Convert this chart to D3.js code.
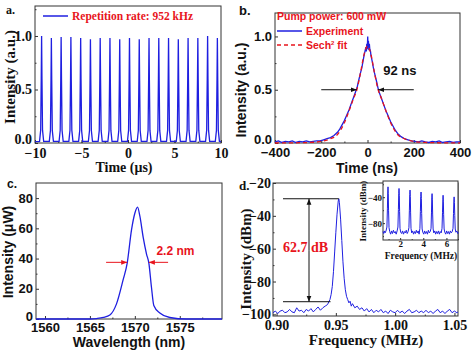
<!DOCTYPE html>
<html>
<head>
<meta charset="utf-8">
<script src="https://cdn.jsdelivr.net/npm/d3@7"></script>
<style>
  body { margin: 0; background: #fff; }
  svg { display: block; }
  .tick line { stroke: #333; }
</style>
</head>
<body>
<div id="chart"></div>
<script>
const width = 474;
const height = 351;

// ---- panel a: pulse train ----
const pulseCenters = [-9.29, -8.24, -7.19, -6.14, -5.09, -4.04, -2.99, -1.94, -0.89, 0.16,
  1.21, 2.26, 3.31, 4.36, 5.41, 6.46, 7.51, 8.56, 9.61];
const pulsePeaks = [1.0, 0.98, 0.99, 0.99, 0.98, 0.97, 0.98, 0.98, 0.97, 0.98,
  0.97, 0.98, 0.98, 0.98, 0.97, 0.98, 0.98, 1.0, 0.98];
// shape of one pulse (offset in us, fraction of peak)
const pulseShapeDt = [-0.22, -0.1, -0.04, 0, 0.04, 0.1, 0.22];
const pulseShapeRel = [0.015, 0.12, 0.6, 1, 0.6, 0.12, 0.015];

// ---- panel b: single pulse ----
const expTime = [-400, -385, -370, -355, -340, -325, -310, -295, -280, -265, -250, -235, -220, -205,
  -190, -175, -160, -145, -130, -120, -110, -100, -90, -80, -70, -60, -50, -45, -40, -30, -25,
  -20, -15, -10, -7, -5, -3, -1, 1, 2, 4, 6, 8, 10, 13, 15, 20, 25, 30, 40, 45, 50, 60, 70, 80,
  90, 100, 110, 120, 130, 145, 160, 175, 190, 205, 220, 235, 250, 265, 280, 295, 310, 325, 340,
  355, 370, 385, 400];
const expInt = [0.01, 0.02, 0.005, 0.015, 0.01, 0.02, 0.005, 0.015, 0.01, 0.02, 0.01, 0.015, 0.02, 0.02,
  0.03, 0.04, 0.05, 0.07, 0.1, 0.13, 0.17, 0.21, 0.26, 0.31, 0.37, 0.43, 0.49, 0.52, 0.57, 0.66, 0.7,
  0.76, 0.82, 0.87, 0.9, 0.86, 0.93, 0.88, 1.0, 0.9, 0.96, 0.87, 0.93, 0.88, 0.86, 0.82, 0.77, 0.71,
  0.66, 0.57, 0.52, 0.48, 0.42, 0.36, 0.3, 0.25, 0.2, 0.16, 0.12, 0.09, 0.06, 0.04, 0.03, 0.02,
  0.015, 0.01, 0.02, 0.01, 0.005, 0.015, 0.01, 0.02, 0.005, 0.01, 0.015, 0.005, 0.01, 0.01];
const fitTime = [-400, -250, -200, -160, -130, -100, -80, -60, -46, -30, -15, 0, 15, 30, 46, 60, 80,
  100, 130, 160, 200, 250, 400];
const fitInt = [0, 0.005, 0.015, 0.04, 0.08, 0.19, 0.3, 0.42, 0.5, 0.66, 0.83, 0.91, 0.83, 0.66, 0.5,
  0.42, 0.3, 0.19, 0.08, 0.04, 0.015, 0.005, 0];

// ---- panel c: optical spectrum ----
const wavelength = [1559, 1565, 1565.74, 1566.5, 1567.22, 1567.96, 1568.7, 1569.15, 1569.63, 1570.0,
  1570.3, 1570.56, 1570.93, 1571.3, 1571.56, 1571.85, 1572.11, 1572.78, 1573.89, 1575.74, 1579.7];
const spectrum = [0, 0, 0.3, 1, 2.6, 10, 26, 37, 59, 70, 74, 68, 54, 43, 37, 21, 9, 4, 1, 0, 0];

// ---- panel d: RF spectrum ----
const rfFreq = [0.897, 0.899, 0.901, 0.903, 0.905, 0.907, 0.909, 0.911, 0.913, 0.915, 0.917, 0.919,
  0.921, 0.923, 0.925, 0.927, 0.929, 0.931, 0.933, 0.935, 0.937, 0.939, 0.941, 0.943, 0.945, 0.946,
  0.947, 0.948, 0.949, 0.950, 0.951, 0.952, 0.9525, 0.953, 0.954, 0.955, 0.956, 0.957, 0.958, 0.959,
  0.960, 0.961, 0.962, 0.963, 0.964, 0.966, 0.968, 0.970, 0.972, 0.974, 0.976, 0.978, 0.980, 0.982,
  0.984, 0.986, 0.988, 0.990, 0.992, 0.994, 0.996, 0.998, 1.000, 1.002, 1.004, 1.006, 1.008, 1.010,
  1.012, 1.014, 1.016, 1.018, 1.020, 1.022, 1.024, 1.026, 1.028, 1.030, 1.032, 1.034, 1.036, 1.038,
  1.040, 1.042, 1.044, 1.046, 1.048, 1.050, 1.052, 1.053];
const rfPower = [-99, -98, -99.5, -98, -97.5, -99, -98.5, -97, -98.5, -99, -96, -98, -97.5, -99, -97,
  -98, -96.5, -98.5, -97, -95.5, -97.5, -96, -95, -94, -91, -88, -83, -74, -62, -50, -39, -31, -29.6,
  -32, -42, -55, -68, -78, -85, -89, -91, -93, -92, -95, -93.5, -96, -95, -97, -96, -98, -96.5, -98.5,
  -97, -99, -97.5, -98.5, -97, -99, -98, -99.5, -97.5, -98.5, -99, -97.5, -99, -98, -99.5, -98, -97,
  -99, -98.5, -97.5, -99, -98, -99, -97.5, -99, -98, -99.5, -98, -97, -99, -98, -99.5, -98, -97, -99,
  -98, -99, -98.5];

// inset: harmonics
const insetFreq = [0.52, 0.58, 0.64, 0.7, 0.78,
  0.86, 0.9, 0.93, 0.952, 0.975, 1.0, 1.04,
  1.1, 1.18, 1.26, 1.34, 1.42, 1.5, 1.58, 1.66, 1.74,
  1.81, 1.85, 1.88, 1.904, 1.93, 1.955, 1.99,
  2.05, 2.13, 2.21, 2.29, 2.37, 2.45, 2.53, 2.61, 2.69,
  2.76, 2.8, 2.83, 2.856, 2.88, 2.905, 2.94,
  3.0, 3.08, 3.16, 3.24, 3.32, 3.4, 3.48, 3.56, 3.64,
  3.71, 3.75, 3.78, 3.808, 3.835, 3.86, 3.9,
  3.96, 4.04, 4.12, 4.2, 4.28, 4.36, 4.44, 4.52, 4.6,
  4.67, 4.71, 4.735, 4.76, 4.785, 4.81, 4.85,
  4.91, 4.99, 5.07, 5.15, 5.23, 5.31, 5.39, 5.47, 5.55,
  5.62, 5.66, 5.69, 5.712, 5.735, 5.76, 5.8,
  5.86, 5.94, 6.02, 6.1, 6.18, 6.26, 6.34, 6.42, 6.5,
  6.57, 6.61, 6.64, 6.664, 6.69, 6.72, 6.76,
  6.82, 6.9, 6.98, 7.0];
const insetPower = [-93, -96, -92, -95, -92,
  -86, -58, -32, -24, -34, -60, -87,
  -93, -97, -92, -96, -91, -95, -93, -97, -92,
  -86, -59, -34, -26.5, -37, -62, -88,
  -94, -96, -92, -97, -93, -95, -91, -96, -93,
  -87, -60, -36, -29, -39, -63, -88,
  -95, -92, -97, -93, -96, -91, -95, -92, -97,
  -88, -62, -39, -32, -42, -65, -89,
  -94, -97, -92, -96, -93, -97, -91, -95, -93,
  -88, -63, -41, -34.5, -44, -66, -89,
  -95, -92, -97, -93, -96, -92, -97, -93, -95,
  -88, -64, -44, -37, -46, -67, -89,
  -94, -97, -92, -96, -93, -97, -92, -95, -93,
  -88, -65, -46, -39.5, -48, -68, -89,
  -94, -92, -96, -94];

const SERIF = "'Liberation Serif', 'Times New Roman', serif";
const SANS = "'Liberation Sans', Arial, sans-serif";
const BLUE = "#1f1fe0";
const RED = "#e8141c";

const svg = d3
  .select("#chart")
  .append("svg")
  .attr("width", width)
  .attr("height", height);

svg.append("rect").attr("width", width).attr("height", height).attr("fill", "#fff");

// draws frame + axes (ticks pointing in), returns scales
function panel(box, xDomain, yDomain, opt) {
  const x = d3.scaleLinear().domain(xDomain).range([box.l, box.r]);
  const y = d3.scaleLinear().domain(yDomain).range([box.b, box.t]);

  svg
    .append("rect")
    .attr("x", box.l)
    .attr("y", box.t)
    .attr("width", box.r - box.l)
    .attr("height", box.b - box.t)
    .attr("fill", opt.fill || "none")
    .attr("stroke", "#333")
    .attr("stroke-width", 1);

  const xAxis = svg
    .append("g")
    .attr("transform", `translate(0, ${box.b})`)
    .call(
      d3
        .axisBottom(x)
        .tickValues(opt.xTicks)
        .tickFormat(opt.xFormat)
        .tickSizeInner(-opt.tick)
        .tickSizeOuter(0)
        .tickPadding(opt.xPad)
    );
  xAxis.select(".domain").remove();
  xAxis
    .selectAll("text")
    .attr("fill", "#111")
    .style("font-family", opt.font)
    .style("font-weight", "bold")
    .style("font-size", opt.tickFont + "px");

  if (opt.xMinor) {
    const g = svg
      .append("g")
      .attr("transform", `translate(0, ${box.b})`)
      .call(d3.axisBottom(x).tickValues(opt.xMinor).tickFormat("").tickSizeInner(-opt.tick / 2).tickSizeOuter(0));
    g.select(".domain").remove();
  }

  const yAxis = svg
    .append("g")
    .attr("transform", `translate(${box.l}, 0)`)
    .call(
      d3
        .axisLeft(y)
        .tickValues(opt.yTicks)
        .tickFormat(opt.yFormat)
        .tickSizeInner(-opt.tick)
        .tickSizeOuter(0)
        .tickPadding(opt.yPad)
    );
  yAxis.select(".domain").remove();
  yAxis
    .selectAll("text")
    .attr("fill", "#111")
    .style("font-family", opt.font)
    .style("font-weight", "bold")
    .style("font-size", opt.tickFont + "px");
  // lift the lowest label a little so it clears the x labels
  if (opt.liftLow) {
    yAxis
      .selectAll(".tick text")
      .filter((v) => v === opt.yTicks[0])
      .attr("y", -opt.liftLow);
  }

  if (opt.yMinor) {
    const g = svg
      .append("g")
      .attr("transform", `translate(${box.l}, 0)`)
      .call(d3.axisLeft(y).tickValues(opt.yMinor).tickFormat("").tickSizeInner(-opt.tick / 2).tickSizeOuter(0));
    g.select(".domain").remove();
  }

  return { x, y };
}

function label(txt, x, y, font, size, opts = {}) {
  const t = svg
    .append("text")
    .attr("x", x)
    .attr("y", y)
    .attr("fill", opts.fill || "#111")
    .attr("text-anchor", opts.anchor || "start")
    .style("font-family", font)
    .style("font-weight", "bold")
    .style("font-size", size + "px")
    .text(txt);
  if (opts.rotate) t.attr("transform", `rotate(-90, ${x}, ${y})`);
  return t;
}

function arrowHead(id, color) {
  svg
    .select("defs")
    .append("marker")
    .attr("id", id)
    .attr("viewBox", "0 0 10 10")
    .attr("refX", 10)
    .attr("refY", 5)
    .attr("markerWidth", 6)
    .attr("markerHeight", 6)
    .attr("orient", "auto")
    .append("path")
    .attr("d", "M0,1 L10,5 L0,9 Z")
    .attr("fill", color);
}
svg.append("defs");
arrowHead("arrBlack", "#111");
arrowHead("arrRed", RED);

// ================= a. =================
const a = panel({ l: 35, r: 221, t: 6, b: 143 }, [-10, 10], [0, 1.28], {
  xTicks: [-10, -5, 0, 5, 10],
  xMinor: d3.range(-10, 10.1, 2.5),
  xFormat: d3.format("d"),
  yTicks: [0, 0.5, 1.0],
  yMinor: [0.25, 0.75, 1.25],
  yFormat: d3.format(".1f"),
  tick: 3,
  xPad: 5,
  yPad: 3,
  liftLow: 4,
  font: SERIF,
  tickFont: 14,
});

const trainPts = [[-10, 0.012]];
pulseCenters.forEach((c, i) => {
  pulseShapeDt.forEach((dt, k) => {
    trainPts.push([c + dt, pulsePeaks[i] * pulseShapeRel[k]]);
  });
});
trainPts.push([10, 0.012]);

svg
  .append("path")
  .datum(trainPts)
  .attr("fill", "none")
  .attr("stroke", BLUE)
  .attr("stroke-width", 1.3)
  .attr("d", d3.line().x((d) => a.x(d[0])).y((d) => a.y(d[1])));

svg
  .append("line")
  .attr("x1", 43).attr("x2", 68)
  .attr("y1", 16).attr("y2", 16)
  .attr("stroke", BLUE)
  .attr("stroke-width", 1.5);
label("Repetition rate: 952 kHz", 72, 20, SERIF, 11.5, { fill: RED });

label("a.", 6, 14, SERIF, 12);
label("Intensity (a.u.)", 15, 77, SERIF, 15, { rotate: true, anchor: "middle" });
label("Time (\u03bcs)", 124, 172, SERIF, 14, { anchor: "middle" });

// ================= b. =================
const b = panel({ l: 275, r: 460, t: 13, b: 143 }, [-400, 400], [0, 1.22], {
  xTicks: [-400, -200, 0, 200, 400],
  xMinor: d3.range(-300, 400, 200),
  xFormat: d3.format("d"),
  yTicks: [0, 0.5, 1.0],
  yMinor: [0.25, 0.75],
  yFormat: d3.format(".1f"),
  tick: 3,
  xPad: 5,
  yPad: 3,
  liftLow: 4,
  font: SANS,
  tickFont: 13,
});

svg
  .append("path")
  .datum(d3.zip(expTime, expInt))
  .attr("fill", "none")
  .attr("stroke", BLUE)
  .attr("stroke-width", 1.3)
  .attr("d", d3.line().x((d) => b.x(d[0])).y((d) => b.y(d[1])));

svg
  .append("path")
  .datum(d3.zip(fitTime, fitInt))
  .attr("fill", "none")
  .attr("stroke", RED)
  .attr("stroke-width", 1.3)
  .attr("stroke-dasharray", "4,3")
  .attr("d", d3.line().curve(d3.curveMonotoneX).x((d) => b.x(d[0])).y((d) => b.y(d[1])));

// FWHM arrows
[[-200, -46], [200, 46]].forEach(([from, to]) => {
  svg
    .append("line")
    .attr("x1", b.x(from)).attr("x2", b.x(to))
    .attr("y1", b.y(0.5)).attr("y2", b.y(0.5))
    .attr("stroke", "#111")
    .attr("stroke-width", 1)
    .attr("marker-end", "url(#arrBlack)");
});
label("92 ns", b.x(68), b.y(0.64), SANS, 13);

label("Pump power: 600 mW", 277, 20, SANS, 10.5, { fill: RED });
svg.append("line").attr("x1", 277).attr("x2", 302).attr("y1", 31).attr("y2", 31)
  .attr("stroke", BLUE).attr("stroke-width", 1.5);
label("Experiment", 306, 35, SANS, 10.5, { fill: RED });
svg.append("line").attr("x1", 277).attr("x2", 302).attr("y1", 45).attr("y2", 45)
  .attr("stroke", RED).attr("stroke-width", 1.5).attr("stroke-dasharray", "4,3");
const sech = label("Sech", 306, 49, SANS, 10.5, { fill: RED });
sech.append("tspan").attr("dy", -4).style("font-size", "6px").text("2");
sech.append("tspan").attr("dy", 4).text(" fit");

label("b.", 239, 15, SANS, 13);
label("Intensity (a.u.)", 246, 90, SANS, 14, { rotate: true, anchor: "middle" });
label("Time (ns)", 367, 173, SANS, 14, { anchor: "middle" });

// ================= c. =================
const c = panel({ l: 36, r: 222, t: 183, b: 319 }, [1559, 1579.7], [0, 90], {
  xTicks: [1560, 1565, 1570, 1575],
  xMinor: [1562.5, 1567.5, 1572.5, 1577.5],
  xFormat: d3.format("d"),
  yTicks: [0, 20, 40, 60, 80],
  yMinor: [10, 30, 50, 70],
  yFormat: d3.format("d"),
  tick: 3,
  xPad: 4,
  yPad: 3,
  liftLow: 3,
  font: SANS,
  tickFont: 13,
});

svg
  .append("path")
  .datum(d3.zip(wavelength, spectrum))
  .attr("fill", "none")
  .attr("stroke", BLUE)
  .attr("stroke-width", 1.3)
  .attr("d", d3.line().curve(d3.curveMonotoneX).x((d) => c.x(d[0])).y((d) => c.y(d[1])));

[[1566.8, 1569.15], [1573.7, 1571.56]].forEach(([from, to]) => {
  svg
    .append("line")
    .attr("x1", c.x(from)).attr("x2", c.x(to))
    .attr("y1", c.y(37.5)).attr("y2", c.y(37.5))
    .attr("stroke", RED)
    .attr("stroke-width", 1)
    .attr("marker-end", "url(#arrRed)");
});
label("2.2 nm", c.x(1572.4), c.y(42.5), SANS, 12, { fill: RED });

label("c.", 7, 188, SANS, 12);
label("Intensity (\u03bcW)", 13, 252, SANS, 14, { rotate: true, anchor: "middle" });
label("Wavelength (nm)", 129, 347, SANS, 14, { anchor: "middle" });

// ================= d. =================
const d = panel({ l: 273, r: 458, t: 183, b: 316 }, [0.897, 1.053], [-101, -20], {
  xTicks: [0.9, 0.95, 1.0, 1.05],
  xMinor: [0.925, 0.975, 1.025],
  xFormat: d3.format(".2f"),
  yTicks: [-100, -80, -60, -40, -20],
  yMinor: [-90, -70, -50, -30],
  yFormat: d3.format("d"),
  tick: 3,
  xPad: 4,
  yPad: 2,
  font: SERIF,
  tickFont: 14,
});

svg
  .append("path")
  .datum(d3.zip(rfFreq, rfPower))
  .attr("fill", "none")
  .attr("stroke", BLUE)
  .attr("stroke-width", 1)
  .attr("d", d3.line().x((p) => d.x(p[0])).y((p) => d.y(p[1])));

// SNR marker lines
const snrTop = -29.6;
const snrBottom = -92.3;
svg.append("line").attr("x1", 283).attr("x2", d.x(0.9525)).attr("y1", d.y(snrTop)).attr("y2", d.y(snrTop))
  .attr("stroke", "#111").attr("stroke-width", 1);
svg.append("line").attr("x1", 283).attr("x2", d.x(0.9455)).attr("y1", d.y(snrBottom)).attr("y2", d.y(snrBottom))
  .attr("stroke", "#111").attr("stroke-width", 1);
svg.append("line").attr("x1", 309).attr("x2", 309).attr("y1", d.y(-61)).attr("y2", d.y(snrTop))
  .attr("stroke", "#111").attr("stroke-width", 1).attr("marker-end", "url(#arrBlack)");
svg.append("line").attr("x1", 309).attr("x2", 309).attr("y1", d.y(-61)).attr("y2", d.y(snrBottom))
  .attr("stroke", "#111").attr("stroke-width", 1).attr("marker-end", "url(#arrBlack)");
label("62.7 dB", 283, 252, SERIF, 14, { fill: RED });

label("d.", 239, 190, SERIF, 13);
label("Intensity (dBm)", 251, 259, SERIF, 15, { rotate: true, anchor: "middle" });
label("Frequency (MHz)", 366, 345, SERIF, 15, { anchor: "middle" });

// inset
const ins = panel({ l: 383, r: 458, t: 181, b: 240 }, [0.52, 7.0], [-106, -15], {
  fill: "#fff",
  xTicks: [2, 4, 6],
  xMinor: [1, 3, 5, 7],
  xFormat: d3.format("d"),
  yTicks: [-80, -40],
  yMinor: [-100, -60, -20],
  yFormat: d3.format("d"),
  tick: 2,
  xPad: 1,
  yPad: 1,
  font: SERIF,
  tickFont: 9,
});

svg
  .append("path")
  .datum(d3.zip(insetFreq, insetPower))
  .attr("fill", "none")
  .attr("stroke", BLUE)
  .attr("stroke-width", 1)
  .attr("d", d3.line().x((p) => ins.x(p[0])).y((p) => ins.y(p[1])));

label("Intensity (dBm)", 366, 211, SERIF, 9, { rotate: true, anchor: "middle" });
label("Frequency (MHz)", 421, 259, SERIF, 9.5, { anchor: "middle" });
</script>
</body>
</html>
